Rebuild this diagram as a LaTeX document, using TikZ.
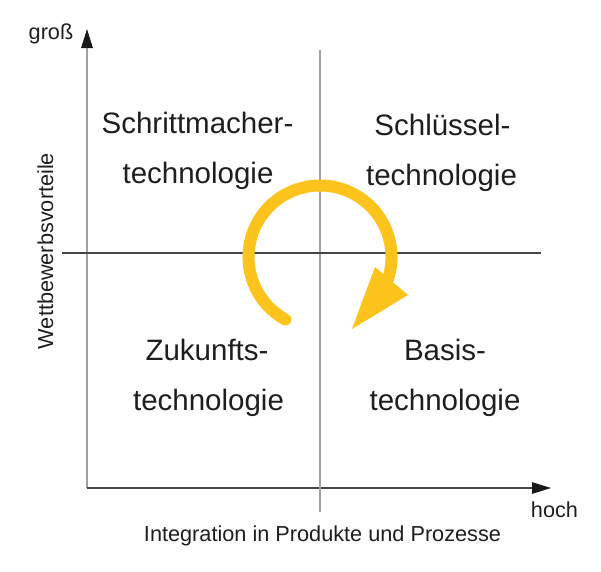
\documentclass[tikz,border=0pt]{standalone}
\usepackage{fontspec}
\setmainfont{Liberation Sans}
\usetikzlibrary{arrows.meta}
\definecolor{gold}{RGB}{252,195,28}
\definecolor{txt}{RGB}{30,30,30}
\definecolor{lgray}{RGB}{160,160,160}
\definecolor{dgray}{RGB}{70,70,70}
\begin{document}
\begin{tikzpicture}[x=1pt,y=-1pt,
  big/.style={font=\fontsize{29.5}{35}\selectfont, text=txt, anchor=base, inner sep=0pt},
  small/.style={font=\fontsize{21.7}{26}\selectfont, text=txt, inner sep=0pt},
  axisv/.style={draw=lgray, line width=1.3pt},
  axish/.style={draw=dgray, line width=1.3pt},
  tip/.style={-{Triangle[length=19pt,width=11.5pt,fill=black!90,color=black!90]}}
]
\useasboundingbox (0,0) rectangle (601,571);
% axes
\coordinate (O) at (87,488);
\coordinate (ytip) at (87,29);
\coordinate (xtip) at (551,488);
\draw[axisv, tip] (O) -- (ytip);
\draw[axish, tip] (O) -- (xtip);
% middle lines
\coordinate (vtop) at (320,50);
\coordinate (vbot) at (320,512);
\coordinate (hl) at (62,253);
\coordinate (hr) at (541,253);
\draw[axisv] (vtop) -- (vbot);
\draw[axish] (hl) -- (hr);
% cycle arrow
\coordinate (c) at (320,257);
\draw[gold, line width=12pt, line cap=round] (c) ++(241:71.5pt) arc[start angle=241, end angle=-19, radius=71.5pt];
\coordinate (a1) at (375,267);
\coordinate (a2) at (408,295);
\coordinate (a3) at (352,329);
\fill[gold] (a1) -- (a2) -- (a3) -- cycle;
% quadrant labels
\node[big] (q1a) at (197.5,133) {Schrittmacher-};
\node[big] (q1b) at (198,183) {technologie};
\node[big] (q2a) at (442.5,135) {Schlüssel-};
\node[big] (q2b) at (441.5,185) {technologie};
\node[big] (q3a) at (207,360) {Zukunfts-};
\node[big] (q3b) at (208.5,410) {technologie};
\node[big] (q4a) at (445,360) {Basis-};
\node[big] (q4b) at (445,410) {technologie};
% axis labels
\node[small, anchor=base] (gross) at (51,39) {groß};
\node[small, anchor=base] (hoch) at (554.5,517) {hoch};
\node[small, anchor=base] (xlab) at (322.5,541) {Integration in Produkte und Prozesse};
\node[small, anchor=base, rotate=90] (ylab) at (53,251) {Wettbewerbsvorteile};
\end{tikzpicture}
\end{document}
